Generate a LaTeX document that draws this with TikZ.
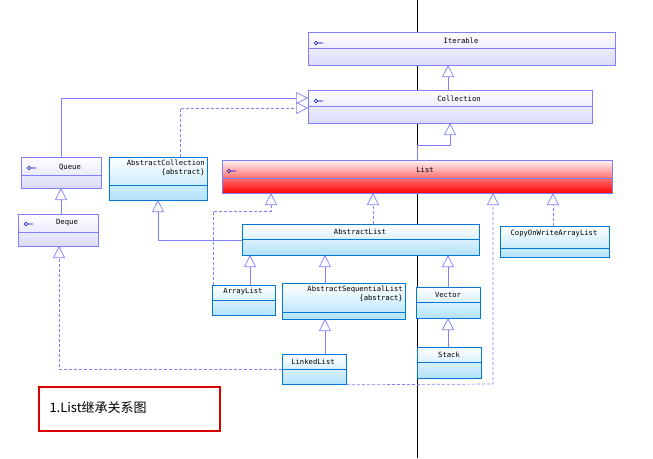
\documentclass[tikz,border=0pt]{standalone}
\usepackage{fontspec}
\newfontfamily\cjk{Noto Sans CJK SC}
\newfontfamily\mono{DejaVu Sans Mono}
\usetikzlibrary{arrows.meta}
\definecolor{ifc}{RGB}{128,128,255}
\definecolor{ifill}{RGB}{218,218,250}
\definecolor{clc}{RGB}{0,120,215}
\definecolor{cfill}{RGB}{178,226,250}
\definecolor{icon}{RGB}{0,0,200}
\tikzset{
 iface/.style={draw=ifc,top color=white,bottom color=ifill,anchor=north west,inner sep=0pt,line width=0.8pt},
 cls/.style={draw=clc,top color=white,bottom color=cfill,anchor=north west,inner sep=0pt,line width=0.8pt},
 lst/.style={draw=ifc,top color=red!5,bottom color=red,anchor=north west,inner sep=0pt,line width=0.8pt},
 txt/.style={font=\mono\fontsize{7.2}{9}\selectfont,inner sep=0pt},
 gen/.style={draw=ifc,line width=0.7pt,-{Triangle[open,length=12pt,width=12pt,fill=white]}},
 real/.style={gen,dash pattern=on 3pt off 2pt},
}
\newcommand{\ico}[2]{\draw[icon,line width=0.6pt] (#1,#2) circle (1.8pt) (#1+1.8,#2) -- (#1+7,#2);}
\begin{document}
\begin{tikzpicture}[x=1pt,y=-1pt]
\useasboundingbox (0,0) rectangle (653,458);
\fill[white] (0,0) rectangle (653,458);
\draw[black,line width=0.8pt] (417,0) -- (417,458);
% boxes
\node[iface,minimum width=307pt,minimum height=33pt] (iter) at (308,32) {};
\node[iface,minimum width=284pt,minimum height=33pt] (coll) at (308,90) {};
\node[iface,minimum width=80pt,minimum height=31pt] (queue) at (21,157) {};
\node[iface,minimum width=80pt,minimum height=32pt] (deque) at (18,214) {};
\node[cls,minimum width=98pt,minimum height=43pt] (acoll) at (109,157) {};
\node[lst,minimum width=390pt,minimum height=33pt] (list) at (222,160) {};
\node[cls,minimum width=237pt,minimum height=31pt] (alist) at (242,224) {};
\node[cls,minimum width=109pt,minimum height=31pt] (cow) at (500,226) {};
\node[cls,minimum width=63pt,minimum height=30pt] (arr) at (212,285) {};
\node[cls,minimum width=123pt,minimum height=36pt] (aseq) at (282,283) {};
\node[cls,minimum width=64pt,minimum height=31pt] (vec) at (416,287) {};
\node[cls,minimum width=64pt,minimum height=30pt] (linked) at (282,354) {};
\node[cls,minimum width=64pt,minimum height=31pt] (stack) at (417,347) {};
% dividers
\draw[ifc,line width=0.8pt] (308,48)--(615,48) (308,106)--(592,106) (21,175)--(101,175) (18,232)--(98,232) (222,178)--(612,178);
\draw[clc,line width=0.8pt] (109,185)--(207,185) (242,239)--(479,239) (500,248)--(609,248) (212,300)--(275,300) (282,312)--(405,312) (416,302)--(480,302) (282,369)--(346,369) (417,362)--(481,362);
% icons
\ico{316}{43} \ico{316}{101} \ico{29}{168} \ico{26}{224} \ico{229}{171}
% texts
\node[txt] (tIter) at (461,41) {Iterable};
\node[txt] (tColl) at (459,99) {Collection};
\node[txt] (tQueue) at (70,167) {Queue};
\node[txt] (tDeque) at (67,223) {Deque};
\node[txt,anchor=north east,align=right] (tAcoll) at (205,160) {AbstractCollection\\{\{abstract\}}};
\node[txt] (tList) at (425,170) {List};
\node[txt] (tAlist) at (360,232) {AbstractList};
\node[txt] (tCow) at (554,234) {CopyOnWriteArrayList};
\node[txt] (tArr) at (243,292) {ArrayList};
\node[txt,anchor=north east,align=right] (tAseq) at (403,286) {AbstractSequentialList\\{\{abstract\}}};
\node[txt] (tVec) at (448,295) {Vector};
\node[txt] (tLinked) at (313,362) {LinkedList};
\node[txt] (tStack) at (449,355) {Stack};
% connectors
\draw[gen] (coll.north -| 448,0) -- (448,65);
\coordinate (lc) at (417,160);
\draw[gen] (lc) -- (417,145) -- (450,145) -- (450,123);
\draw[gen] (queue.north -| 61,0) -- (61,98) -- (308,98);
\draw[real] (acoll.north -| 180,0) -- (180,108) -- (308,108);
\draw[gen] (deque.north -| 61,0) -- (61,188);
\draw[gen] (alist.west |- 0,240) -- (158,240) -- (158,200);
\draw[real] (alist.north -| 373,0) -- (373,193);
\draw[real] (arr.north -| 213,0) -- (213,211) -- (271,211) -- (271,193);
\draw[gen] (arr.north -| 250,0) -- (250,255);
\draw[gen] (aseq.north -| 325,0) -- (325,255);
\draw[gen] (vec.north -| 448,0) -- (448,255);
\draw[gen] (stack.north -| 448,0) -- (448,318);
\draw[gen] (linked.north -| 325,0) -- (325,319);
\draw[real] (linked.west |- 0,369) -- (59,369) -- (59,246);
\draw[real] (linked.south east) -- (493,384) -- (493,193);
\draw[real] (cow.north -| 553,0) -- (553,193);
% caption
\node[draw=red!85!black,line width=1.5pt,minimum width=181pt,minimum height=44pt,anchor=north west,inner sep=0pt] (cap) at (38,386) {};
\node[font=\cjk\fontsize{13}{15}\selectfont,anchor=west] (capt) at (46,408) {1.List继承关系图};
\end{tikzpicture}
\end{document}
